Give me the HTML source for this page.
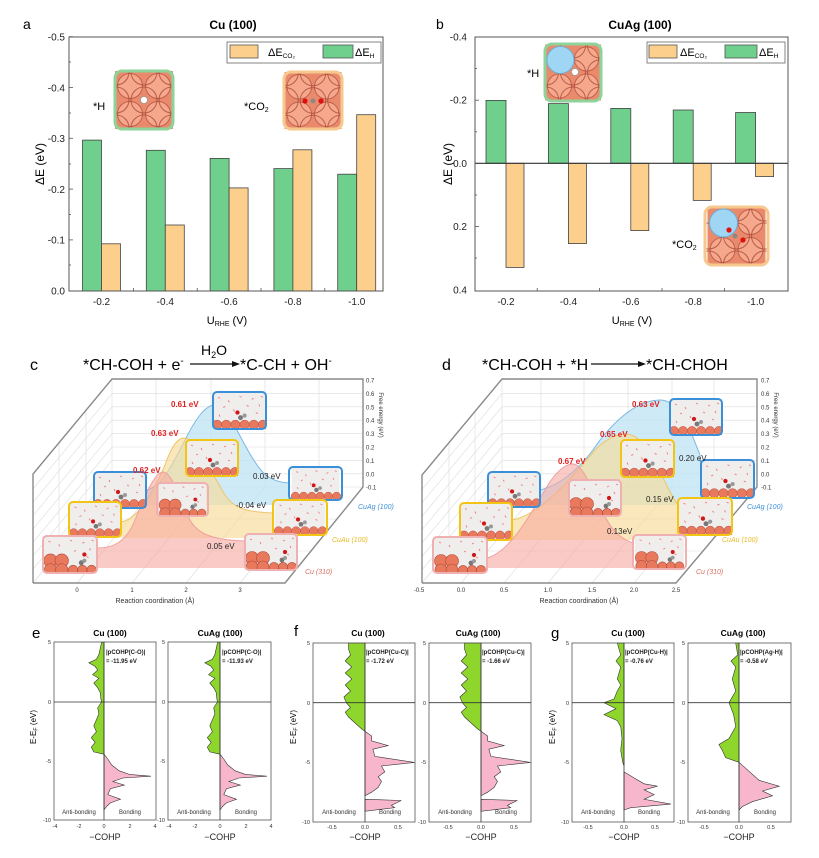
<!DOCTYPE html>
<html><head><meta charset="utf-8"><style>
html,body{margin:0;padding:0;background:#fff;}
svg{display:block;font-family:"Liberation Sans",Arial,sans-serif;}
</style></head><body>
<svg width="819" height="858" viewBox="0 0 819 858" xmlns="http://www.w3.org/2000/svg">
<defs>
<symbol id="cu" viewBox="0 0 58 58">
<rect width="58" height="58" fill="#ea8a6c"/>
<g fill="#f6a88c" stroke="#c0604c" stroke-width="1"><circle cx="15" cy="15" r="12.5"/><circle cx="43" cy="15" r="12.5"/><circle cx="15" cy="43" r="12.5"/><circle cx="43" cy="43" r="12.5"/></g>
<g fill="none" stroke="#a84a3a" stroke-width="1.1" opacity="0.75"><circle cx="1" cy="1" r="13"/><circle cx="29" cy="1" r="13"/><circle cx="57" cy="1" r="13"/><circle cx="1" cy="29" r="13"/><circle cx="29" cy="29" r="13"/><circle cx="57" cy="29" r="13"/><circle cx="1" cy="57" r="13"/><circle cx="29" cy="57" r="13"/><circle cx="57" cy="57" r="13"/></g>
</symbol>
<symbol id="cuag" viewBox="0 0 58 58">
<rect width="58" height="58" fill="#ea8a6c"/>
<g fill="#f6a88c" stroke="#c0604c" stroke-width="1"><circle cx="43" cy="15" r="12.5"/><circle cx="15" cy="43" r="12.5"/><circle cx="43" cy="43" r="12.5"/></g>
<g fill="none" stroke="#a84a3a" stroke-width="1.1" opacity="0.75"><circle cx="29" cy="1" r="13"/><circle cx="57" cy="1" r="13"/><circle cx="1" cy="29" r="13"/><circle cx="29" cy="29" r="13"/><circle cx="57" cy="29" r="13"/><circle cx="1" cy="57" r="13"/><circle cx="29" cy="57" r="13"/><circle cx="57" cy="57" r="13"/></g>
<circle cx="16" cy="16" r="14" fill="#9fd6f3" stroke="#6aaed8" stroke-width="1"/>
</symbol>
<symbol id="mol" viewBox="0 0 52 36">
<rect width="52" height="36" fill="#f0eded"/>
<g stroke="#f07a7a" stroke-width="0.9"><line x1="5" y1="5" x2="7" y2="6"/><line x1="15" y1="8" x2="16" y2="10"/><line x1="26" y1="4" x2="28" y2="5"/><line x1="38" y1="7" x2="40" y2="6"/><line x1="45" y1="12" x2="46" y2="14"/><line x1="10" y1="15" x2="12" y2="14"/><line x1="33" y1="13" x2="35" y2="14"/><line x1="20" y1="17" x2="21" y2="19"/><line x1="42" y1="20" x2="44" y2="21"/><line x1="6" y1="22" x2="7" y2="24"/><line x1="47" y1="4" x2="49" y2="5"/></g>
<g fill="#e8795c" stroke="#b85040" stroke-width="0.5"><circle cx="4" cy="32" r="4.6"/><circle cx="13" cy="32" r="4.6"/><circle cx="22" cy="32" r="4.6"/><circle cx="31" cy="32" r="4.6"/><circle cx="40" cy="32" r="4.6"/><circle cx="49" cy="32" r="4.6"/></g>
<circle cx="27" cy="25" r="2.4" fill="#777"/><circle cx="31" cy="23" r="2" fill="#999"/><circle cx="24" cy="20" r="2.1" fill="#d01818"/>
</symbol>
<symbol id="molp" viewBox="0 0 52 36">
<rect width="52" height="36" fill="#f0eded"/>
<g stroke="#f07a7a" stroke-width="0.9"><line x1="5" y1="5" x2="7" y2="6"/><line x1="15" y1="8" x2="16" y2="10"/><line x1="26" y1="4" x2="28" y2="5"/><line x1="38" y1="7" x2="40" y2="6"/><line x1="45" y1="12" x2="46" y2="14"/><line x1="30" y1="15" x2="32" y2="14"/><line x1="42" y1="20" x2="44" y2="21"/><line x1="47" y1="4" x2="49" y2="5"/></g>
<g fill="#e8795c" stroke="#b04838" stroke-width="0.6"><circle cx="7" cy="24" r="6.5"/><circle cx="18" cy="24" r="6.5"/><circle cx="7" cy="33" r="6"/><circle cx="18" cy="33" r="6"/><circle cx="29" cy="33" r="4.6"/><circle cx="38" cy="33" r="4.6"/><circle cx="47" cy="33" r="4.6"/></g>
<circle cx="37" cy="26" r="2.4" fill="#777"/><circle cx="40" cy="24" r="2" fill="#999"/><circle cx="40" cy="18" r="2.1" fill="#d01818"/>
</symbol>
</defs>

<!-- ================= Panel a ================= -->
<text x="23" y="29" font-size="14">a</text>
<text x="233" y="29" font-size="12" font-weight="bold" text-anchor="middle">Cu (100)</text>
<g stroke="#444" stroke-width="0.8">
<rect x="82.5" y="140.1" width="19" height="150.9" fill="#6fcf8c"/>
<rect x="101.5" y="243.8" width="19" height="47.2" fill="#fdcf8c"/>
<rect x="146.3" y="150.3" width="19" height="140.7" fill="#6fcf8c"/>
<rect x="165.3" y="225" width="19" height="66" fill="#fdcf8c"/>
<rect x="210.1" y="158.4" width="19" height="132.6" fill="#6fcf8c"/>
<rect x="229.1" y="187.9" width="19" height="103.1" fill="#fdcf8c"/>
<rect x="273.9" y="168.6" width="19" height="122.4" fill="#6fcf8c"/>
<rect x="292.9" y="149.8" width="19" height="141.2" fill="#fdcf8c"/>
<rect x="337.7" y="174.2" width="19" height="116.8" fill="#6fcf8c"/>
<rect x="356.7" y="114.7" width="19" height="176.3" fill="#fdcf8c"/>
</g>
<rect x="69" y="37" width="314" height="254" fill="none" stroke="#555" stroke-width="1"/>
<g stroke="#555" stroke-width="0.8">
<line x1="69" y1="36.7" x2="73" y2="36.7"/><line x1="69" y1="87.5" x2="73" y2="87.5"/><line x1="69" y1="138.3" x2="73" y2="138.3"/><line x1="69" y1="189.1" x2="73" y2="189.1"/><line x1="69" y1="239.9" x2="73" y2="239.9"/>
<line x1="69" y1="62" x2="71" y2="62"/><line x1="69" y1="113" x2="71" y2="113"/><line x1="69" y1="164" x2="71" y2="164"/><line x1="69" y1="214.5" x2="71" y2="214.5"/><line x1="69" y1="265" x2="71" y2="265"/>
<line x1="133.4" y1="291" x2="133.4" y2="288"/><line x1="197.2" y1="291" x2="197.2" y2="288"/><line x1="261" y1="291" x2="261" y2="288"/><line x1="324.8" y1="291" x2="324.8" y2="288"/>
</g>
<g font-size="10" text-anchor="end" fill="#222">
<text x="65" y="40.5">-0.5</text><text x="65" y="91.3">-0.4</text><text x="65" y="142.1">-0.3</text><text x="65" y="192.9">-0.2</text><text x="65" y="243.7">-0.1</text><text x="65" y="294.5">0.0</text>
</g>
<g font-size="10" text-anchor="middle" fill="#222">
<text x="101.5" y="305">-0.2</text><text x="165.3" y="305">-0.4</text><text x="229.1" y="305">-0.6</text><text x="292.9" y="305">-0.8</text><text x="356.7" y="305">-1.0</text>
</g>
<text transform="translate(44,164) rotate(-90)" font-size="12" text-anchor="middle">ΔE (eV)</text>
<text x="227" y="324" font-size="11" text-anchor="middle">U<tspan font-size="7" dy="2">RHE</tspan><tspan dy="-2"> (V)</tspan></text>
<!-- legend a -->
<rect x="227" y="42" width="154" height="21" fill="#fff" stroke="#666" stroke-width="0.8"/>
<rect x="230" y="45" width="28" height="13" fill="#fdcf8c" stroke="#555" stroke-width="0.8"/>
<text x="268" y="56" font-size="11">ΔE<tspan font-size="6.5" dy="2">CO₂</tspan></text>
<rect x="323" y="45" width="30" height="13" fill="#6fcf8c" stroke="#555" stroke-width="0.8"/>
<text x="355" y="56" font-size="11">ΔE<tspan font-size="6.5" dy="2">H</tspan></text>
<!-- insets a -->
<use href="#cu" x="115" y="71" width="58" height="58"/>
<rect x="115" y="71" width="58" height="58" rx="7" fill="none" stroke="#8dd39a" stroke-width="3"/>
<g stroke="#999" stroke-width="0.8" fill="#fff"><circle cx="144" cy="100" r="3.5"/></g>
<text x="93" y="110" font-size="11">*H</text>
<use href="#cu" x="284" y="72" width="58" height="57"/>
<rect x="284" y="72" width="58" height="57" rx="7" fill="none" stroke="#f7c88e" stroke-width="3"/>
<circle cx="305" cy="101" r="2.6" fill="#e01010"/><circle cx="313" cy="101" r="2.4" fill="#888"/><circle cx="321" cy="101" r="2.6" fill="#e01010"/>
<text x="244" y="110" font-size="11">*CO<tspan font-size="7" dy="2">2</tspan></text>

<!-- ================= Panel b ================= -->
<text x="436" y="29" font-size="14">b</text>
<text x="640" y="29" font-size="12" font-weight="bold" text-anchor="middle">CuAg (100)</text>
<g stroke="#444" stroke-width="0.8">
<rect x="486" y="100.4" width="20" height="62.9" fill="#6fcf8c"/>
<rect x="506" y="163.3" width="18" height="104.1" fill="#fdcf8c"/>
<rect x="548.4" y="103.6" width="20" height="59.7" fill="#6fcf8c"/>
<rect x="568.4" y="163.3" width="18" height="80.3" fill="#fdcf8c"/>
<rect x="610.8" y="108.4" width="20" height="54.9" fill="#6fcf8c"/>
<rect x="630.8" y="163.3" width="18" height="67.3" fill="#fdcf8c"/>
<rect x="673.2" y="110" width="20" height="53.3" fill="#6fcf8c"/>
<rect x="693.2" y="163.3" width="18" height="37.1" fill="#fdcf8c"/>
<rect x="735.6" y="112.5" width="20" height="50.8" fill="#6fcf8c"/>
<rect x="755.6" y="163.3" width="18" height="13.3" fill="#fdcf8c"/>
</g>
<line x1="475" y1="163.3" x2="788" y2="163.3" stroke="#333" stroke-width="1.2"/>
<rect x="475" y="37" width="313" height="254" fill="none" stroke="#555" stroke-width="1"/>
<g stroke="#555" stroke-width="0.8">
<line x1="475" y1="100.2" x2="479" y2="100.2"/><line x1="475" y1="226.5" x2="479" y2="226.5"/>
<line x1="475" y1="68.6" x2="477" y2="68.6"/><line x1="475" y1="131.8" x2="477" y2="131.8"/><line x1="475" y1="195" x2="477" y2="195"/><line x1="475" y1="258" x2="477" y2="258"/>
<line x1="537.2" y1="291" x2="537.2" y2="288"/><line x1="599.6" y1="291" x2="599.6" y2="288"/><line x1="662" y1="291" x2="662" y2="288"/><line x1="724.4" y1="291" x2="724.4" y2="288"/>
</g>
<g font-size="10" text-anchor="end" fill="#222">
<text x="467" y="40.5">-0.4</text><text x="467" y="103.7">-0.2</text><text x="467" y="166.8">0.0</text><text x="467" y="230">0.2</text><text x="467" y="293.5">0.4</text>
</g>
<g font-size="10" text-anchor="middle" fill="#222">
<text x="506" y="305">-0.2</text><text x="568.4" y="305">-0.4</text><text x="630.8" y="305">-0.6</text><text x="693.2" y="305">-0.8</text><text x="755.6" y="305">-1.0</text>
</g>
<text transform="translate(452,164) rotate(-90)" font-size="12" text-anchor="middle">ΔE (eV)</text>
<text x="632" y="324" font-size="11" text-anchor="middle">U<tspan font-size="7" dy="2">RHE</tspan><tspan dy="-2"> (V)</tspan></text>
<!-- legend b -->
<rect x="647" y="42" width="138" height="21" fill="#fff" stroke="#666" stroke-width="0.8"/>
<rect x="649" y="45" width="28" height="13" fill="#fdcf8c" stroke="#555" stroke-width="0.8"/>
<text x="680" y="56" font-size="11">ΔE<tspan font-size="6.5" dy="2">CO₂</tspan></text>
<rect x="725" y="45" width="32" height="13" fill="#6fcf8c" stroke="#555" stroke-width="0.8"/>
<text x="759" y="56" font-size="11">ΔE<tspan font-size="6.5" dy="2">H</tspan></text>
<!-- insets b -->
<use href="#cuag" x="545" y="44" width="56" height="57"/>
<rect x="545" y="44" width="56" height="57" rx="7" fill="none" stroke="#8dd39a" stroke-width="3"/>
<circle cx="575" cy="72" r="3.5" fill="#fff" stroke="#999" stroke-width="0.8"/>
<text x="527" y="77" font-size="11">*H</text>
<use href="#cuag" x="705" y="207" width="63" height="58"/>
<rect x="705" y="207" width="63" height="58" rx="7" fill="none" stroke="#f7c88e" stroke-width="3"/>
<circle cx="729" cy="230" r="2.6" fill="#e01010"/><circle cx="735" cy="236" r="2.4" fill="#888"/><circle cx="743" cy="240" r="2.6" fill="#e01010"/>
<text x="672" y="248" font-size="11">*CO<tspan font-size="7" dy="2">2</tspan></text>

<!-- ================= Panel c ================= -->
<text x="30" y="370" font-size="16">c</text>
<text x="83" y="370" font-size="16">*CH-COH + e<tspan font-size="10" dy="-6">-</tspan></text>
<text x="214" y="355" font-size="14" text-anchor="middle">H<tspan font-size="9" dy="3">2</tspan><tspan dy="-3">O</tspan></text>
<line x1="190" y1="364" x2="234" y2="364" stroke="#111" stroke-width="1.2"/><polygon points="240,364 232,361 232,367" fill="#111"/>
<text x="240" y="370" font-size="16">*C-CH + OH<tspan font-size="10" dy="-6">-</tspan></text>
<!-- grid -->
<g stroke="#dcdcdc" stroke-width="0.6" fill="none">
<line x1="112" y1="393.4" x2="363" y2="393.4"/><line x1="112" y1="406.8" x2="363" y2="406.8"/><line x1="112" y1="420.2" x2="363" y2="420.2"/><line x1="112" y1="433.6" x2="363" y2="433.6"/><line x1="112" y1="447" x2="363" y2="447"/><line x1="112" y1="460.4" x2="363" y2="460.4"/><line x1="112" y1="473.8" x2="363" y2="473.8"/>
<line x1="156" y1="379" x2="156" y2="487"/><line x1="211" y1="379" x2="211" y2="487"/><line x1="265" y1="379" x2="265" y2="487"/><line x1="319" y1="379" x2="319" y2="487"/>
<line x1="112" y1="393.4" x2="33" y2="488.9"/><line x1="112" y1="406.8" x2="33" y2="502.3"/><line x1="112" y1="420.2" x2="33" y2="515.7"/><line x1="112" y1="433.6" x2="33" y2="529.1"/><line x1="112" y1="447" x2="33" y2="542.5"/><line x1="112" y1="460.4" x2="33" y2="555.9"/><line x1="112" y1="473.8" x2="33" y2="569.3"/><line x1="112" y1="487" x2="33" y2="583"/>
<line x1="86" y1="410.3" x2="86" y2="518.6"/><line x1="59" y1="442.7" x2="59" y2="551.4"/><line x1="112" y1="379" x2="112" y2="487"/>
<line x1="112" y1="487" x2="363" y2="487"/><line x1="86" y1="519" x2="337" y2="519"/><line x1="59" y1="551" x2="311" y2="551"/>
<line x1="77" y1="583" x2="156" y2="487"/><line x1="132" y1="583" x2="211" y2="487"/><line x1="186" y1="583" x2="265" y2="487"/><line x1="240" y1="583" x2="319" y2="487"/>
</g>
<g stroke="#8a8a8a" stroke-width="1.4" fill="none">
<polyline points="33,583 33,474 112,379 363,379 363,487 285,583 33,583"/>
</g>
<!-- fills c -->
<path d="M146,505 L146,490 C160,488 170,470 185,440 C195,420 205,405 215,405 C228,405 240,440 255,462 C265,478 275,482 289,483 L289,505 Z" fill="#bfe3f4" fill-opacity="0.75" stroke="none"/>
<path d="M146,490 C160,488 170,470 185,440 C195,420 205,405 215,405 C228,405 240,440 255,462 C265,478 275,482 289,483" fill="none" stroke="#7ab8e0" stroke-width="1"/>
<path d="M121,538 L121,522 C135,520 150,500 165,465 C172,445 178,438 184,438 C195,438 210,470 225,495 C235,510 250,512 273,513 L273,538 Z" fill="#f8dc98" fill-opacity="0.65"/>
<path d="M121,522 C135,520 150,500 165,465 C172,445 178,438 184,438 C195,438 210,470 225,495 C235,510 250,512 273,513" fill="none" stroke="#ecc66a" stroke-width="1"/>
<path d="M97,568 L97,548 C110,548 125,545 135,520 C145,495 155,472 163,472 C172,472 180,500 190,520 C198,535 215,540 245,541 L245,568 Z" fill="#f6a8a0" fill-opacity="0.6"/>
<path d="M97,548 C110,548 125,545 135,520 C145,495 155,472 163,472 C172,472 180,500 190,520 C198,535 215,540 245,541" fill="none" stroke="#eea0a0" stroke-width="1"/>
<!-- insets c -->
<g stroke-width="2" fill="none">
<use href="#mol" x="213" y="392" width="53" height="37"/><rect x="213" y="392" width="53" height="37" rx="4" stroke="#3b8fd8"/>
<use href="#mol" x="94" y="472" width="52" height="36"/><rect x="94" y="472" width="52" height="36" rx="4" stroke="#3b8fd8"/>
<use href="#mol" x="289" y="467" width="53" height="33"/><rect x="289" y="467" width="53" height="33" rx="4" stroke="#3b8fd8"/>
<use href="#mol" x="186" y="440" width="52" height="36"/><rect x="186" y="440" width="52" height="36" rx="4" stroke="#f2c414"/>
<use href="#mol" x="69" y="502" width="52" height="35"/><rect x="69" y="502" width="52" height="35" rx="4" stroke="#f2c414"/>
<use href="#mol" x="273" y="500" width="54" height="35"/><rect x="273" y="500" width="54" height="35" rx="4" stroke="#f2c414"/>
<use href="#molp" x="157" y="483" width="51" height="33"/><rect x="157" y="483" width="51" height="33" rx="4" stroke="#eeb0b0"/>
<use href="#molp" x="43" y="536" width="54" height="37"/><rect x="43" y="536" width="54" height="37" rx="4" stroke="#eeb0b0"/>
<use href="#molp" x="245" y="534" width="52" height="36"/><rect x="245" y="534" width="52" height="36" rx="4" stroke="#eeb0b0"/>
</g>
<g font-size="8" font-weight="bold" fill="#e02020">
<text x="171" y="407">0.61 eV</text><text x="151" y="436">0.63 eV</text><text x="133" y="473">0.62 eV</text>
</g>
<g font-size="8" fill="#222">
<text x="253" y="479">0.03 eV</text><text x="236" y="508">-0.04 eV</text><text x="207" y="549">0.05 eV</text>
</g>
<g font-size="6" fill="#333">
<text x="366" y="382.5">0.7</text><text x="366" y="396">0.6</text><text x="366" y="409.3">0.5</text><text x="366" y="422.7">0.4</text><text x="366" y="436">0.3</text><text x="366" y="449.5">0.2</text><text x="366" y="463">0.1</text><text x="366" y="476.3">0.0</text><text x="366" y="489.7">-0.1</text>
</g>
<text transform="translate(379,415) rotate(90)" font-size="6" text-anchor="middle" fill="#333">Free energy (eV)</text>
<g font-size="6" fill="#333" text-anchor="middle">
<text x="77" y="592">0</text><text x="132" y="592">1</text><text x="186" y="592">2</text><text x="240" y="592">3</text>
</g>
<text x="155" y="603" font-size="7" text-anchor="middle" fill="#333">Reaction coordination (Å)</text>
<g font-size="7" font-style="italic">
<text x="358" y="509" fill="#3b8fd8">CuAg (100)</text>
<text x="332" y="542" fill="#e8b820">CuAu (100)</text>
<text x="305" y="574" fill="#d87060">Cu (310)</text>
</g>

<!-- ================= Panel d ================= -->
<text x="442" y="370" font-size="16">d</text>
<text x="482" y="370" font-size="16">*CH-COH + *H</text>
<line x1="591" y1="364" x2="640" y2="364" stroke="#111" stroke-width="1.2"/><polygon points="646,364 638,361 638,367" fill="#111"/>
<text x="646" y="370" font-size="16">*CH-CHOH</text>
<g stroke="#dcdcdc" stroke-width="0.6" fill="none">
<line x1="502" y1="393.4" x2="757" y2="393.4"/><line x1="502" y1="406.8" x2="757" y2="406.8"/><line x1="502" y1="420.2" x2="757" y2="420.2"/><line x1="502" y1="433.6" x2="757" y2="433.6"/><line x1="502" y1="447" x2="757" y2="447"/><line x1="502" y1="460.4" x2="757" y2="460.4"/><line x1="502" y1="473.8" x2="757" y2="473.8"/>
<line x1="541" y1="379" x2="541" y2="487"/><line x1="584" y1="379" x2="584" y2="487"/><line x1="628" y1="379" x2="628" y2="487"/><line x1="672" y1="379" x2="672" y2="487"/><line x1="714" y1="379" x2="714" y2="487"/>
<line x1="502" y1="393.4" x2="422" y2="489.4"/><line x1="502" y1="406.8" x2="422" y2="502.8"/><line x1="502" y1="420.2" x2="422" y2="516.2"/><line x1="502" y1="433.6" x2="422" y2="529.6"/><line x1="502" y1="447" x2="422" y2="543"/><line x1="502" y1="460.4" x2="422" y2="556.4"/><line x1="502" y1="473.8" x2="422" y2="569.8"/><line x1="502" y1="487" x2="422" y2="583"/>
<line x1="475" y1="411.4" x2="475" y2="519.4"/><line x1="449" y1="442.6" x2="449" y2="550.6"/><line x1="502" y1="379" x2="502" y2="487"/>
<line x1="502" y1="487" x2="757" y2="487"/><line x1="475" y1="519" x2="730" y2="519"/><line x1="449" y1="551" x2="703" y2="551"/>
<line x1="461" y1="583" x2="541" y2="487"/><line x1="504" y1="583" x2="584" y2="487"/><line x1="548" y1="583" x2="628" y2="487"/><line x1="592" y1="583" x2="672" y2="487"/><line x1="634" y1="583" x2="714" y2="487"/>
</g>
<g stroke="#8a8a8a" stroke-width="1.4" fill="none">
<polyline points="422,583 422,475 502,379 757,379 757,487 676,583 422,583"/>
</g>
<path d="M540,505 L540,490 C560,485 580,470 600,440 C620,415 640,400 660,400 C680,400 690,430 700,455 L701,470 L701,505 Z" fill="#bfe3f4" fill-opacity="0.75"/>
<path d="M540,490 C560,485 580,470 600,440 C620,415 640,400 660,400 C680,400 690,430 700,455 L701,470" fill="none" stroke="#7ab8e0" stroke-width="1"/>
<path d="M512,540 L512,520 C540,515 570,480 595,450 C605,440 615,434 625,434 C650,434 660,480 678,505 L678,540 Z" fill="#f8dc98" fill-opacity="0.65"/>
<path d="M512,520 C540,515 570,480 595,450 C605,440 615,434 625,434 C650,434 660,480 678,505" fill="none" stroke="#ecc66a" stroke-width="1"/>
<path d="M487,568 L487,558 C510,552 530,515 548,485 C556,472 565,464 573,464 C585,464 595,500 607,520 C615,535 625,540 633,543 L633,568 Z" fill="#f6a8a0" fill-opacity="0.6"/>
<path d="M487,558 C510,552 530,515 548,485 C556,472 565,464 573,464 C585,464 595,500 607,520 C615,535 625,540 633,543" fill="none" stroke="#eea0a0" stroke-width="1"/>
<g stroke-width="2" fill="none">
<use href="#mol" x="670" y="399" width="52" height="36"/><rect x="670" y="399" width="52" height="36" rx="4" stroke="#3b8fd8"/>
<use href="#mol" x="488" y="472" width="52" height="35"/><rect x="488" y="472" width="52" height="35" rx="4" stroke="#3b8fd8"/>
<use href="#mol" x="701" y="460" width="53" height="38"/><rect x="701" y="460" width="53" height="38" rx="4" stroke="#3b8fd8"/>
<use href="#mol" x="621" y="440" width="53" height="37"/><rect x="621" y="440" width="53" height="37" rx="4" stroke="#f2c414"/>
<use href="#mol" x="460" y="503" width="52" height="37"/><rect x="460" y="503" width="52" height="37" rx="4" stroke="#f2c414"/>
<use href="#mol" x="678" y="498" width="54" height="37"/><rect x="678" y="498" width="54" height="37" rx="4" stroke="#f2c414"/>
<use href="#molp" x="569" y="480" width="52" height="36"/><rect x="569" y="480" width="52" height="36" rx="4" stroke="#eeb0b0"/>
<use href="#molp" x="433" y="537" width="54" height="36"/><rect x="433" y="537" width="54" height="36" rx="4" stroke="#eeb0b0"/>
<use href="#molp" x="633" y="535" width="53" height="34"/><rect x="633" y="535" width="53" height="34" rx="4" stroke="#eeb0b0"/>
</g>
<g font-size="8" font-weight="bold" fill="#e02020">
<text x="632" y="407">0.63 eV</text><text x="600" y="437">0.65 eV</text><text x="558" y="464">0.67 eV</text>
</g>
<g font-size="8" fill="#222">
<text x="679" y="461">0.20 eV</text><text x="646" y="502">0.15 eV</text><text x="607" y="534">0.13eV</text>
</g>
<g font-size="6" fill="#333">
<text x="761" y="382.5">0.7</text><text x="761" y="396">0.6</text><text x="761" y="409.3">0.5</text><text x="761" y="422.7">0.4</text><text x="761" y="436">0.3</text><text x="761" y="449.5">0.2</text><text x="761" y="463">0.1</text><text x="761" y="476.3">0.0</text><text x="761" y="489.7">-0.1</text>
</g>
<text transform="translate(774,415) rotate(90)" font-size="6" text-anchor="middle" fill="#333">Free energy (eV)</text>
<g font-size="6" fill="#333" text-anchor="middle">
<text x="419" y="592">-0.5</text><text x="461" y="592">0.0</text><text x="504" y="592">0.5</text><text x="548" y="592">1.0</text><text x="592" y="592">1.5</text><text x="634" y="592">2.0</text><text x="676" y="592">2.5</text>
</g>
<text x="579" y="603" font-size="7" text-anchor="middle" fill="#333">Reaction coordination (Å)</text>
<g font-size="7" font-style="italic">
<text x="747" y="509" fill="#3b8fd8">CuAg (100)</text>
<text x="722" y="542" fill="#e8b820">CuAu (100)</text>
<text x="696" y="574" fill="#d87060">Cu (310)</text>
</g>

<!-- ================= Panel e ================= -->
<text x="32" y="638" font-size="15">e</text>
<text x="110" y="636" font-size="8.5" font-weight="bold" text-anchor="middle">Cu (100)</text>
<text x="220" y="636" font-size="8.5" font-weight="bold" text-anchor="middle">CuAg (100)</text>
<g id="eplot">
<path d="M104,642 L101.5,642.6 L100.2,648.6 L98.9,654.5 L96.4,659.3 L88.8,662.8 L95.1,666.4 L97.7,670 L92.6,674.7 L98.9,678.3 L93.8,683 L97.7,687.8 L100.2,692.5 L100.8,698.4 L101.5,702 L97.7,707.9 L98.9,713.9 L96.4,719.8 L93.8,725.7 L96.4,731.7 L91.3,737.6 L95.1,742.4 L91.3,747.1 L93.8,751.9 L104,754.2 Z" fill="#8fd62c" stroke="#333" stroke-width="0.6"/>
<path d="M104,754.2 L107.8,759 L111.6,764.9 L119.2,770.8 L129.4,774.4 L151,776.2 L123,778 L112.9,781.5 L124.3,785.1 L110.4,788.7 L107.8,794.6 L120.5,799.3 L110.4,802.9 L106.5,806.5 L104,810 Z" fill="#f7b6cb" stroke="#333" stroke-width="0.6"/>
</g>
<use href="#eplot" transform="translate(116,0)"/>
<g fill="none" stroke="#555" stroke-width="0.8">
<rect x="54" y="642" width="102" height="178"/><rect x="168" y="642" width="103" height="178"/>
</g>
<g stroke="#333" stroke-width="0.8">
<line x1="54" y1="702" x2="156" y2="702"/><line x1="168" y1="702" x2="271" y2="702"/>
<line x1="104" y1="642" x2="104" y2="820"/><line x1="220" y1="642" x2="220" y2="820"/>
</g>
<g font-size="5.5" fill="#333" text-anchor="end">
<text x="51" y="644">5</text><text x="51" y="704">0</text><text x="51" y="763">-5</text><text x="51" y="822">-10</text>
<text x="165" y="644">5</text><text x="165" y="704">0</text><text x="165" y="763">-5</text><text x="165" y="822">-10</text>
</g>
<g font-size="5.5" fill="#333" text-anchor="middle">
<text x="55" y="828">-4</text><text x="79" y="828">-2</text><text x="104" y="828">0</text><text x="130" y="828">2</text><text x="155" y="828">4</text>
<text x="169" y="828">-4</text><text x="195" y="828">-2</text><text x="220" y="828">0</text><text x="246" y="828">2</text><text x="271" y="828">4</text>
</g>
<g font-size="9" fill="#222" text-anchor="middle"><text x="105" y="840">−COHP</text><text x="220" y="840">−COHP</text></g>
<text transform="translate(36,727) rotate(-90)" font-size="8" text-anchor="middle">E-E<tspan font-size="5.5" dy="1.5">F</tspan><tspan dy="-1.5"> (eV)</tspan></text>
<g font-size="6" font-weight="bold" fill="#222">
<text x="106" y="654">|pCOHP(C-O)|</text><text x="106" y="663">= -11.95 eV</text>
<text x="222" y="654">|pCOHP(C-O)|</text><text x="222" y="663">= -11.93 eV</text>
</g>
<g font-size="6" fill="#333" text-anchor="middle">
<text x="79" y="814">Anti-bonding</text><text x="130" y="814">Bonding</text>
<text x="194" y="814">Anti-bonding</text><text x="246" y="814">Bonding</text>
</g>

<!-- ================= Panel f ================= -->
<text x="294" y="636" font-size="15">f</text>
<text x="368" y="636" font-size="8.5" font-weight="bold" text-anchor="middle">Cu (100)</text>
<text x="478" y="636" font-size="8.5" font-weight="bold" text-anchor="middle">CuAg (100)</text>
<g id="fplot">
<path d="M365,643 L348.5,643 L348.5,649 L350.5,655 L345.2,661 L351.8,667 L345.2,673 L351.8,679 L345.2,685 L350.5,691 L343.9,697 L346.5,703 L350.5,707.5 L345.2,712.2 L348.5,717 L355.1,723 L361.7,729 L365,731.3 Z" fill="#8fd62c" stroke="#333" stroke-width="0.6"/>
<path d="M365,731.3 L371.6,736 L371.6,740.9 L388.1,745.6 L372.9,749.2 L374.9,756.4 L414.5,762.4 L381.5,766 L384.8,771.9 L378.2,776.7 L381.5,781.4 L378.2,787.4 L371.6,792.2 L365,795.8 Z" fill="#f7b6cb" stroke="#333" stroke-width="0.6"/>
<path d="M365,799.3 L401.3,800.5 L391.4,805.3 L394.7,807.7 L365,811.3 Z" fill="#f7b6cb" stroke="#333" stroke-width="0.6"/>
</g>
<use href="#fplot" transform="translate(116,0)"/>
<g fill="none" stroke="#555" stroke-width="0.8">
<rect x="313" y="643" width="102" height="179"/><rect x="429" y="643" width="102" height="179"/>
</g>
<g stroke="#333" stroke-width="0.8">
<line x1="313" y1="702.7" x2="415" y2="702.7"/><line x1="429" y1="702.7" x2="531" y2="702.7"/>
<line x1="365" y1="643" x2="365" y2="822"/><line x1="481" y1="643" x2="481" y2="822"/>
</g>
<g font-size="5.5" fill="#333" text-anchor="end">
<text x="310" y="645">5</text><text x="310" y="705">0</text><text x="310" y="764">-5</text><text x="310" y="824">-10</text>
<text x="426" y="645">5</text><text x="426" y="705">0</text><text x="426" y="764">-5</text><text x="426" y="824">-10</text>
</g>
<g font-size="5.5" fill="#333" text-anchor="middle">
<text x="332" y="829">-0.5</text><text x="365" y="829">0.0</text><text x="398" y="829">0.5</text>
<text x="448" y="829">-0.5</text><text x="481" y="829">0.0</text><text x="514" y="829">0.5</text>
</g>
<g font-size="9" fill="#222" text-anchor="middle"><text x="365" y="840">−COHP</text><text x="481" y="840">−COHP</text></g>
<text transform="translate(296,727) rotate(-90)" font-size="8" text-anchor="middle">E-E<tspan font-size="5.5" dy="1.5">F</tspan><tspan dy="-1.5"> (eV)</tspan></text>
<g font-size="6" font-weight="bold" fill="#222">
<text x="366" y="654">|pCOHP(Cu-C)|</text><text x="366" y="663">= -1.72 eV</text>
<text x="482" y="654">|pCOHP(Cu-C)|</text><text x="482" y="663">= -1.66 eV</text>
</g>
<g font-size="6" fill="#333" text-anchor="middle">
<text x="339" y="814">Anti-bonding</text><text x="390" y="814">Bonding</text>
<text x="455" y="814">Anti-bonding</text><text x="506" y="814">Bonding</text>
</g>

<!-- ================= Panel g ================= -->
<text x="551" y="638" font-size="15">g</text>
<text x="628" y="636" font-size="8.5" font-weight="bold" text-anchor="middle">Cu (100)</text>
<text x="743" y="636" font-size="8.5" font-weight="bold" text-anchor="middle">CuAg (100)</text>
<path d="M624,643 L617.3,643 L620.7,655 L616,661 L620.7,667 L617.3,679 L620.7,685 L617.3,691 L614,699 L604,702.7 L616,708.7 L604,714.6 L617.3,720.6 L620.7,726.6 L622,738.5 L620.7,750.4 L622.7,762.3 L624,766 Z" fill="#8fd62c" stroke="#333" stroke-width="0.6"/>
<path d="M624,771.9 L634,777.9 L644.1,783.8 L657.5,786.2 L644.1,789.8 L654.2,794.6 L644.1,799.3 L670.9,804.1 L630.7,807.7 L624,810 Z" fill="#f7b6cb" stroke="#333" stroke-width="0.6"/>
<path d="M739,643 L735.7,643 L737.7,655 L731,661 L735.7,667 L732.3,679 L735.7,691 L729,702.7 L733.6,714.6 L735.7,726.6 L729,738.5 L718.9,744.5 L722.3,750.4 L725.6,757.6 L739,762.3 Z" fill="#8fd62c" stroke="#333" stroke-width="0.6"/>
<path d="M739,762.3 L745.7,768.3 L752.4,774.3 L759.1,780.3 L779.2,786.2 L762.5,791 L772.5,795.8 L752.4,801.7 L742.4,806.5 L739,810 Z" fill="#f7b6cb" stroke="#333" stroke-width="0.6"/>
<g fill="none" stroke="#555" stroke-width="0.8">
<rect x="572" y="643" width="102" height="179"/><rect x="688" y="643" width="103" height="179"/>
</g>
<g stroke="#333" stroke-width="0.8">
<line x1="572" y1="702.7" x2="674" y2="702.7"/><line x1="688" y1="702.7" x2="791" y2="702.7"/>
<line x1="624" y1="643" x2="624" y2="822"/><line x1="739" y1="643" x2="739" y2="822"/>
</g>
<g font-size="5.5" fill="#333" text-anchor="end">
<text x="569" y="645">5</text><text x="569" y="705">0</text><text x="569" y="764">-5</text><text x="569" y="824">-10</text>
<text x="685" y="645">5</text><text x="685" y="705">0</text><text x="685" y="764">-5</text><text x="685" y="824">-10</text>
</g>
<g font-size="5.5" fill="#333" text-anchor="middle">
<text x="588" y="829">-0.5</text><text x="624" y="829">0.0</text><text x="655" y="829">0.5</text>
<text x="704" y="829">-0.5</text><text x="739" y="829">0.0</text><text x="771" y="829">0.5</text>
</g>
<g font-size="9" fill="#222" text-anchor="middle"><text x="624" y="840">−COHP</text><text x="739" y="840">−COHP</text></g>
<text transform="translate(555,727) rotate(-90)" font-size="8" text-anchor="middle">E-E<tspan font-size="5.5" dy="1.5">F</tspan><tspan dy="-1.5"> (eV)</tspan></text>
<g font-size="6" font-weight="bold" fill="#222">
<text x="625" y="654">|pCOHP(Cu-H)|</text><text x="625" y="663">= -0.76 eV</text>
<text x="740" y="654">|pCOHP(Ag-H)|</text><text x="740" y="663">= -0.58 eV</text>
</g>
<g font-size="6" fill="#333" text-anchor="middle">
<text x="598" y="814">Anti-bonding</text><text x="649" y="814">Bonding</text>
<text x="713" y="814">Anti-bonding</text><text x="765" y="814">Bonding</text>
</g>
</svg>
</body></html>
